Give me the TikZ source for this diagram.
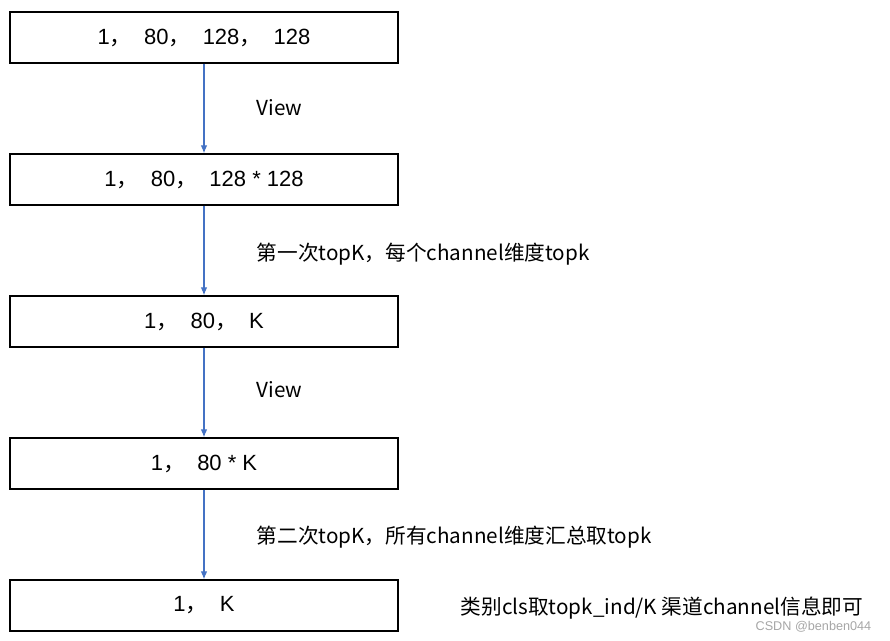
\documentclass[tikz,border=0pt]{standalone}
\usepackage{fontspec}
\setmainfont{Noto Sans CJK SC}
\newfontfamily\latn{Liberation Sans}
\newcommand\cm{{\rmfamily，}}
\usetikzlibrary{arrows.meta}
\begin{document}
\begin{tikzpicture}[x=0.75pt,y=-0.75pt,
 box/.style={draw,line width=1.1pt,minimum width=291pt,minimum height=38.25pt,inner sep=0pt,font=\fontsize{16.5}{18}\selectfont\latn},
 lbl/.style={anchor=west,font=\fontsize{15.5}{17}\selectfont},
 arr/.style={draw={rgb,255:red,68;green,114;blue,196},line width=0.8pt,-{Latex[length=6pt,width=5pt]}}]
\useasboundingbox (0,0) rectangle (890,640);
\node[box] (b1) at (204,37.5) {1\cm\ \ 80\cm\ \ 128\cm\ \ 128};
\node[box] (b2) at (204,179.5) {1\cm\ \ 80\cm\ \ 128 * 128};
\node[box] (b3) at (204,321.5) {1\cm\ \ 80\cm\ \ K};
\node[box] (b4) at (204,463.5) {1\cm\ \ 80 * K};
\node[box] (b5) at (204,605.5) {1\cm\ \ K};
\draw[arr] (b1) -- (b2);
\draw[arr] (b2) -- (b3);
\draw[arr] (b3) -- (b4);
\draw[arr] (b4) -- (b5);
\node[lbl] (l1) at (252,108) {View};
\node[lbl] (l2) at (252,254) {第一次topK，每个channel维度topk};
\node[lbl] (l3) at (252,390) {View};
\node[lbl] (l4) at (252,537) {第二次topK，所有channel维度汇总取topk};
\node[lbl,anchor=center] (l5) at (662,608) {类别cls取topk\_ind/K 渠道channel信息即可};
\node[anchor=east,text=gray!70,font=\fontsize{9.5}{10}\selectfont\latn] (wm) at (876,627) {CSDN @benben044};
\end{tikzpicture}
\end{document}
